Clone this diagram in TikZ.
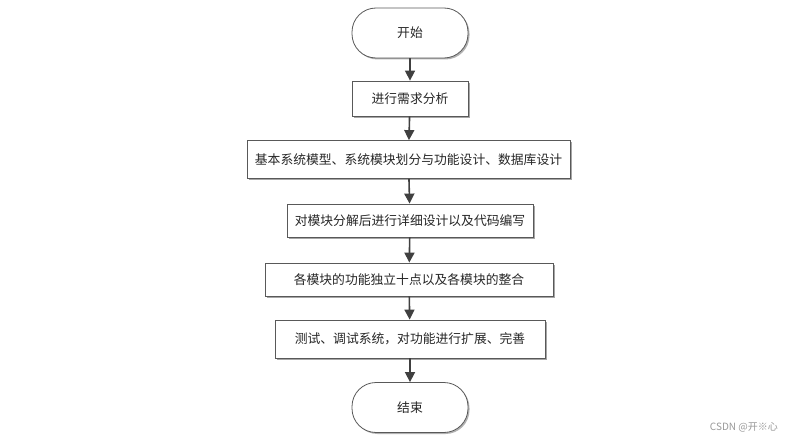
\documentclass[tikz,border=0pt]{standalone}
\usepackage{fontspec}
\newfontfamily\cjk{Noto Sans CJK SC}
\usetikzlibrary{shadows,arrows.meta}
\begin{document}
\begin{tikzpicture}[x=1pt,y=-1pt,
  every node/.style={font=\cjk\fontsize{12.8}{14}\selectfont, text=black!85, inner sep=0pt},
  procbox/.style={draw=black!65, line width=0.8pt, fill=white, minimum height=36pt,
    drop shadow={shadow xshift=2pt, shadow yshift=-2pt, fill=black!35, opacity=1}},
  termbox/.style={draw=black!65, line width=0.8pt, fill=white, rounded corners=24pt,
    minimum width=116pt, minimum height=50pt,
    drop shadow={shadow xshift=1.5pt, shadow yshift=-1.5pt, fill=black!30, opacity=1}},
  flow/.style={draw=black!75, line width=1.6pt, -{Triangle[length=10pt,width=10pt]}}]
\useasboundingbox (0,0) rectangle (785,441);
\fill[white] (0,0) rectangle (785,441);
\node[termbox] (start) at (410,33) {开始};
\node[procbox, minimum width=116pt, minimum height=35pt] (s1) at (410,98.5) {进行需求分析};
\node[procbox, minimum width=323pt, minimum height=38pt] (s2) at (408.5,159.5) {基本系统模型、系统模块划分与功能设计、数据库设计};
\node[procbox, minimum width=246pt, minimum height=33pt] (s3) at (410,220.5) {对模块分解后进行详细设计以及代码编写};
\node[procbox, minimum width=288pt, minimum height=33pt] (s4) at (409,279.5) {各模块的功能独立十点以及各模块的整合};
\node[procbox, minimum width=270pt, minimum height=38pt] (s5) at (410,339) {测试、调试系统，对功能进行扩展、完善};
\node[termbox] (end) at (410,407.5) {结束};
\draw[flow] (start) -- (s1);
\draw[flow] (s1) -- (s2);
\draw[flow] (s2) -- (s3);
\draw[flow] (s3) -- (s4);
\draw[flow] (s4) -- (s5);
\draw[flow] (s5) -- (end);
\node[font=\cjk\fontsize{10}{12}\selectfont, text=black!40, anchor=east] (wm) at (778,427) {CSDN @开※心};
\end{tikzpicture}
\end{document}
